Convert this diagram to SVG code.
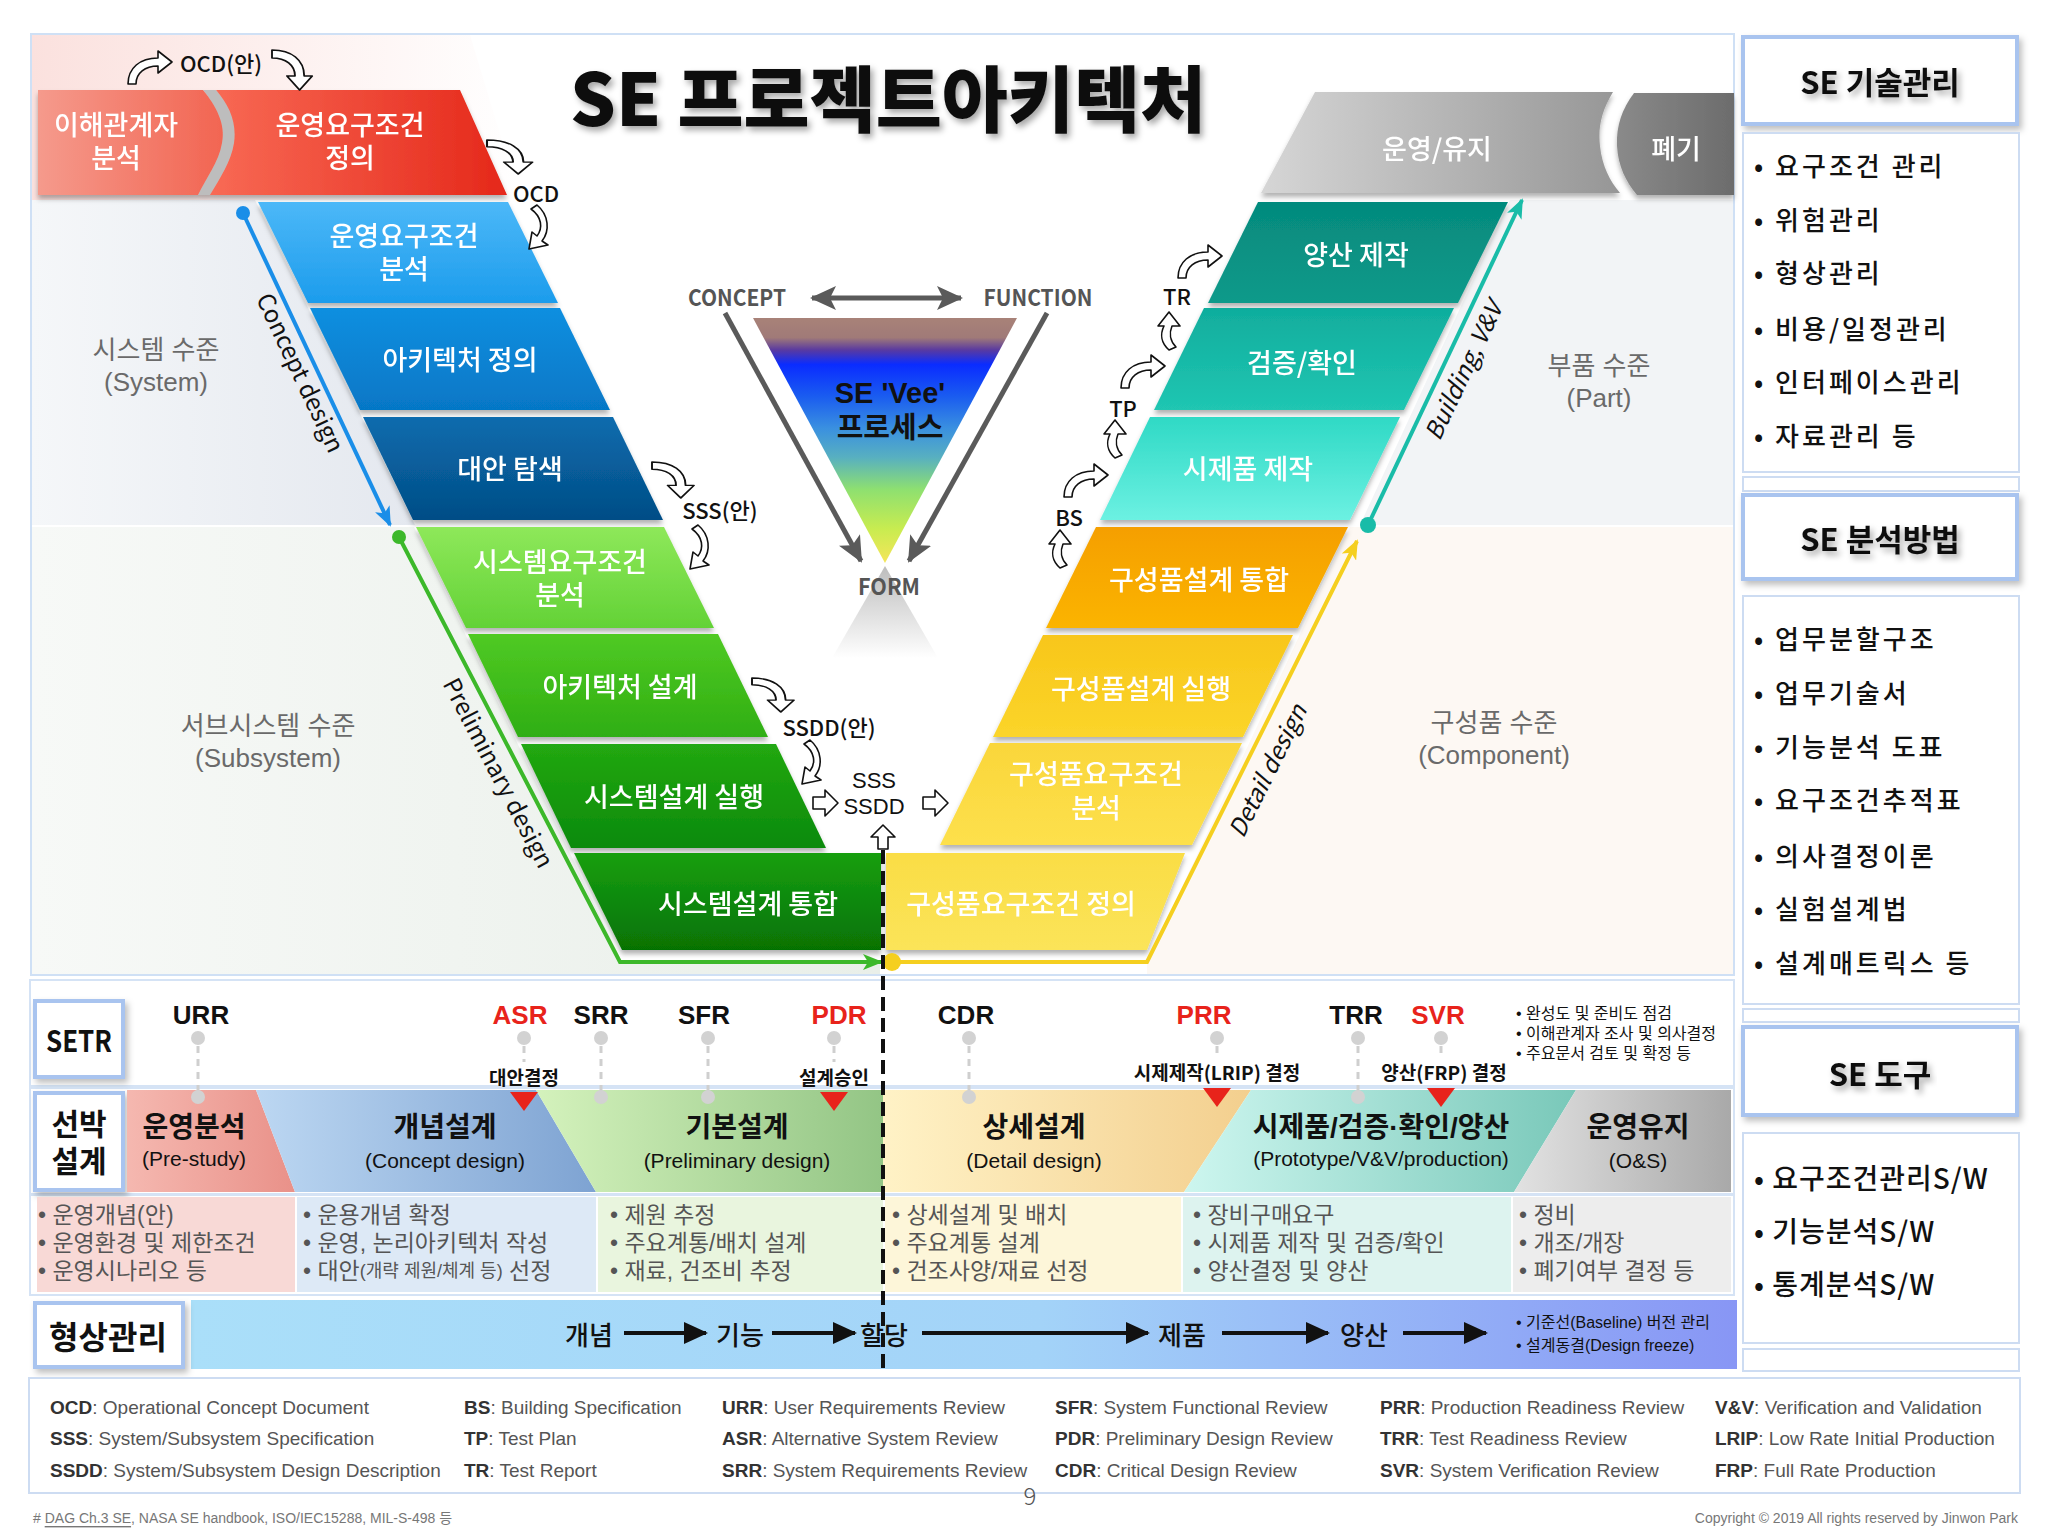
<svg xmlns="http://www.w3.org/2000/svg" width="2048" height="1536" viewBox="0 0 2048 1536">
<defs>
<linearGradient id="gR1" x1="0" y1="0" x2="1" y2="0"><stop offset="0" stop-color="#f59a8c"/><stop offset="1" stop-color="#f26552"/></linearGradient>
<linearGradient id="gR2" x1="0" y1="0" x2="1" y2="0"><stop offset="0" stop-color="#f86a55"/><stop offset="1" stop-color="#e5281a"/></linearGradient>
<linearGradient id="gB1" x1="0" y1="0" x2="0" y2="1"><stop offset="0" stop-color="#4cb8f8"/><stop offset="1" stop-color="#1c9cec"/></linearGradient>
<linearGradient id="gB2" x1="0" y1="0" x2="0" y2="1"><stop offset="0" stop-color="#0f8fe0"/><stop offset="1" stop-color="#0677c6"/></linearGradient>
<linearGradient id="gB3" x1="0" y1="0" x2="0" y2="1"><stop offset="0" stop-color="#0b6cae"/><stop offset="1" stop-color="#034d86"/></linearGradient>
<linearGradient id="gG1" x1="0" y1="0" x2="0" y2="1"><stop offset="0" stop-color="#8ee85a"/><stop offset="1" stop-color="#63d236"/></linearGradient>
<linearGradient id="gG2" x1="0" y1="0" x2="0" y2="1"><stop offset="0" stop-color="#50ca24"/><stop offset="1" stop-color="#2fae12"/></linearGradient>
<linearGradient id="gG3" x1="0" y1="0" x2="0" y2="1"><stop offset="0" stop-color="#22a812"/><stop offset="1" stop-color="#0b8a0a"/></linearGradient>
<linearGradient id="gG4" x1="0" y1="0" x2="0" y2="1"><stop offset="0" stop-color="#179f10"/><stop offset="1" stop-color="#067205"/></linearGradient>
<linearGradient id="gT1" x1="0" y1="0" x2="0" y2="1"><stop offset="0" stop-color="#058a7d"/><stop offset="1" stop-color="#0c9a8a"/></linearGradient>
<linearGradient id="gT2" x1="0" y1="0" x2="0" y2="1"><stop offset="0" stop-color="#10ad9d"/><stop offset="1" stop-color="#20c6b2"/></linearGradient>
<linearGradient id="gT3" x1="0" y1="0" x2="0" y2="1"><stop offset="0" stop-color="#2fd9c5"/><stop offset="1" stop-color="#6cf1e2"/></linearGradient>
<linearGradient id="gO1" x1="0" y1="0" x2="0" y2="1"><stop offset="0" stop-color="#f59f00"/><stop offset="1" stop-color="#fbb400"/></linearGradient>
<linearGradient id="gO2" x1="0" y1="0" x2="0" y2="1"><stop offset="0" stop-color="#f8c61a"/><stop offset="1" stop-color="#fbd52a"/></linearGradient>
<linearGradient id="gO3" x1="0" y1="0" x2="0" y2="1"><stop offset="0" stop-color="#fad63a"/><stop offset="1" stop-color="#fde04c"/></linearGradient>
<linearGradient id="gO4" x1="0" y1="0" x2="0" y2="1"><stop offset="0" stop-color="#fadd45"/><stop offset="1" stop-color="#fbe459"/></linearGradient>
<linearGradient id="gGr1" x1="0" y1="0" x2="1" y2="0"><stop offset="0" stop-color="#d6d6d6"/><stop offset="1" stop-color="#969696"/></linearGradient>
<linearGradient id="gGr2" x1="0" y1="0" x2="1" y2="0"><stop offset="0" stop-color="#8a8a8a"/><stop offset="1" stop-color="#6c6c6c"/></linearGradient>
<linearGradient id="gVee" gradientUnits="userSpaceOnUse" x1="0" y1="318" x2="0" y2="563"><stop offset="0" stop-color="#a88278"/><stop offset="0.08" stop-color="#a07a78"/><stop offset="0.13" stop-color="#5a3aa0"/><stop offset="0.19" stop-color="#0a2cff"/><stop offset="0.32" stop-color="#1a5cf0"/><stop offset="0.45" stop-color="#3a90e0"/><stop offset="0.57" stop-color="#58b0c0"/><stop offset="0.7" stop-color="#8ee070"/><stop offset="0.86" stop-color="#c8ec50"/><stop offset="1" stop-color="#f5e55a"/></linearGradient>
<linearGradient id="gRef" x1="0" y1="0" x2="0" y2="1"><stop offset="0" stop-color="#bdbdbd"/><stop offset="1" stop-color="#ffffff"/></linearGradient>
<linearGradient id="gPk" x1="0" y1="0" x2="1" y2="0"><stop offset="0" stop-color="#fbe1de"/><stop offset="1" stop-color="#ffffff"/></linearGradient>
<linearGradient id="gSys" x1="0" y1="0" x2="1" y2="0"><stop offset="0" stop-color="#f5f7f9"/><stop offset="1" stop-color="#e4e8ef"/></linearGradient>
<linearGradient id="gSub" x1="0" y1="0" x2="1" y2="0"><stop offset="0" stop-color="#f7f9f7"/><stop offset="1" stop-color="#e9efe9"/></linearGradient>
<linearGradient id="pP" x1="0" y1="0" x2="1" y2="0"><stop offset="0" stop-color="#f5b8b0"/><stop offset="1" stop-color="#e99189"/></linearGradient>
<linearGradient id="pB" x1="0" y1="0" x2="1" y2="0"><stop offset="0" stop-color="#bcd7f2"/><stop offset="1" stop-color="#7ea3d2"/></linearGradient>
<linearGradient id="pG" x1="0" y1="0" x2="1" y2="0"><stop offset="0" stop-color="#d4f2bc"/><stop offset="1" stop-color="#93c585"/></linearGradient>
<linearGradient id="pY" x1="0" y1="0" x2="1" y2="0"><stop offset="0" stop-color="#fff2c6"/><stop offset="1" stop-color="#f3cf8e"/></linearGradient>
<linearGradient id="pT" x1="0" y1="0" x2="1" y2="0"><stop offset="0" stop-color="#cdf6ef"/><stop offset="1" stop-color="#79c8b9"/></linearGradient>
<linearGradient id="pA" x1="0" y1="0" x2="1" y2="0"><stop offset="0" stop-color="#e2e2e2"/><stop offset="1" stop-color="#a9a9a9"/></linearGradient>
<linearGradient id="gCM" x1="0" y1="0" x2="1" y2="0"><stop offset="0" stop-color="#aadff9"/><stop offset="0.55" stop-color="#a3d3f8"/><stop offset="1" stop-color="#8896f5"/></linearGradient>
<filter id="sh" x="-10%" y="-10%" width="120%" height="130%"><feDropShadow dx="0" dy="4" stdDeviation="2.5" flood-color="#000" flood-opacity="0.3"/></filter>
<filter id="tsh" x="-5%" y="-20%" width="110%" height="150%"><feDropShadow dx="3" dy="4" stdDeviation="3" flood-color="#000" flood-opacity="0.35"/></filter>
<filter id="bsh" x="-10%" y="-10%" width="125%" height="135%"><feDropShadow dx="3" dy="4" stdDeviation="3" flood-color="#000" flood-opacity="0.25"/></filter>
<marker id="mB" markerUnits="userSpaceOnUse" markerWidth="20" markerHeight="16" refX="18" refY="8" orient="auto"><path d="M0,0 L20,8 L0,16 L5,8 Z" fill="#1a8ee8"/></marker>
<marker id="mG" markerUnits="userSpaceOnUse" markerWidth="20" markerHeight="16" refX="18" refY="8" orient="auto"><path d="M0,0 L20,8 L0,16 L5,8 Z" fill="#3cb82a"/></marker>
<marker id="mY" markerUnits="userSpaceOnUse" markerWidth="20" markerHeight="16" refX="18" refY="8" orient="auto"><path d="M0,0 L20,8 L0,16 L5,8 Z" fill="#f5cf1f"/></marker>
<marker id="mT" markerUnits="userSpaceOnUse" markerWidth="20" markerHeight="16" refX="18" refY="8" orient="auto"><path d="M0,0 L20,8 L0,16 L5,8 Z" fill="#19bca8"/></marker>
<marker id="mV" markerUnits="userSpaceOnUse" markerWidth="26" markerHeight="24" refX="24" refY="12" orient="auto-start-reverse"><path d="M0,0 L26,12 L0,24 L6,12 Z" fill="#5a5a5a"/></marker>
<marker id="mK" markerUnits="userSpaceOnUse" markerWidth="24" markerHeight="22" refX="22" refY="11" orient="auto"><path d="M0,0 L24,11 L0,22 Z" fill="#111"/></marker>
<path id="cA" class="arr" d="M0,30 C0,14 12,4 30,4 L30,-3 L44,8 L30,19 L30,12 C17,12 8,19 8,30 Z"/>
<path id="cB" class="arr" d="M0,0 C17,0 28,10 28,26 L35,26 L24,40 L13,26 L20,26 C20,15 12,8 0,8 Z"/>
<path id="cC" class="arr" d="M4,0 C16,10 17,26 9,36 L15,40 L-4,44 L-1,27 L4,31 C10,23 9,12 -2,4 Z"/>
<path id="cD" class="arr" d="M14,40 C6,33 5,24 9,16 L3,16 L14,2 L25,16 L17,16 C14,23 15,31 21,37 Z"/>
<path id="bE" class="arr" d="M0,-6 L12,-6 L12,-13 L25,0 L12,13 L12,6 L0,6 Z"/>
<path id="bF" class="arr" d="M-5,23 L-5,11 L-12,11 L0,-1 L12,11 L5,11 L5,23 Z"/>
</defs>
<style>
text{font-family:"Noto Sans CJK KR","Noto Sans",sans-serif;dominant-baseline:central}
.ml{font-family:"Liberation Sans","Noto Sans CJK KR",sans-serif}
.arr{fill:#fff;stroke:#111;stroke-width:1.6;stroke-linejoin:round}
.bt{font-size:27px;fill:#fff;text-anchor:middle;font-weight:500}
.lv{font-size:26px;fill:#6a6a6a;text-anchor:middle}
.an{font-size:22px;fill:#111;text-anchor:middle;font-weight:500}
.vl{font-size:23px;fill:#555;text-anchor:middle;font-weight:700}
.rot{font-size:24px;fill:#111;text-anchor:middle}
.hd{font-size:31px;font-weight:700;fill:#111;text-anchor:middle}
.li{font-size:26px;font-weight:500;fill:#111;letter-spacing:3px}
.lt{font-size:28px;font-weight:500;fill:#111;letter-spacing:1px}
.st{font-family:"Liberation Sans",Arial,sans-serif;font-size:26px;font-weight:700;text-anchor:middle;fill:#111}
.red{fill:#e8231b}
.dec{font-size:19px;font-weight:700;fill:#111;text-anchor:middle}
.sb{font-size:16px;fill:#111}
.pt{font-size:28px;font-weight:700;fill:#111}
.ps{font-size:21px;fill:#111}
.db{font-size:23px;fill:#555}
.cf{font-size:26px;fill:#111;text-anchor:middle;font-weight:500}
.gl{font-family:"Liberation Sans","Noto Sans CJK KR",sans-serif;font-size:19px;fill:#555}
.b{font-weight:700;fill:#333}
.ft{font-family:"Liberation Sans","Noto Sans CJK KR",sans-serif;font-size:14px;fill:#777}
.lb{fill:#fff;stroke:#a9c4ef;stroke-width:4}
.bx{fill:#fff;stroke:#cddcf2;stroke-width:2}
.dsh{stroke:#cfcfcf;stroke-width:3;stroke-dasharray:7 6;fill:none}
.dot{fill:#d2d2d2}
.tri{fill:#e8231b}
</style>
<rect width="2048" height="1536" fill="#fff"/>

<g id="background">
<rect x="31" y="34" width="1703" height="941" fill="#fff" stroke="#cfe0f5" stroke-width="2"/>
<polygon points="32,35 470,35 520,200 32,200" fill="url(#gPk)"/>
<polygon points="32,200 255,200 415,525 32,525" fill="url(#gSys)"/>
<polygon points="32,527 414,527 622,962 880,962 880,974 32,974" fill="url(#gSub)"/>
<polygon points="1510,200 1733,200 1733,525 1360,525" fill="#f2f4f6"/>
<polygon points="1350,527 1733,527 1733,974 1147,974 1147,962" fill="#fdf8f3"/>
<rect x="30" y="980" width="1704" height="106" fill="#fff" stroke="#d5e3f5" stroke-width="2"/>
<rect x="30" y="1088" width="1704" height="106" fill="#fff" stroke="#d5e3f5" stroke-width="2"/>
<rect x="30" y="1195" width="1704" height="100" fill="#fff" stroke="#d5e3f5" stroke-width="2"/>
</g>

<text x="888" y="94" text-anchor="middle" font-size="72" font-weight="900" fill="#111" textLength="636" lengthAdjust="spacingAndGlyphs" filter="url(#tsh)">SE 프로젝트아키텍처</text>

<g id="top-red" filter="url(#sh)">
<path d="M200,90 L216,90 C230,106 238,124 234,143 C231,162 220,178 210,195 L198,195 C206,178 219,162 222,143 C226,124 216,106 203,90 Z" fill="#bdbdbd"/>
<g id="n-stakeholder"><path d="M38,90 L203,90 C216,106 226,124 222,143 C219,162 206,178 198,195 L38,195 Z" fill="url(#gR1)"/>
<text class="bt ml" x="116" y="126">이해관계자<tspan x="116" dy="33">분석</tspan></text></g>
<g id="n-opreq-def"><path d="M216,90 L460,90 L507,195 L210,195 C220,178 231,162 234,143 C237,122 229,105 216,90 Z" fill="url(#gR2)"/>
<text class="bt ml" x="350" y="126">운영요구조건<tspan x="350" dy="33">정의</tspan></text></g>
</g>

<g id="left-bands" filter="url(#sh)">
<g id="n-opreq-anal"><polygon points="258,202 508,202 558,303 308,303" fill="url(#gB1)"/><text class="bt ml" x="404" y="237">운영요구조건<tspan x="404" dy="33">분석</tspan></text></g>
<g id="n-arch-def"><polygon points="310,308 560,308 610,410 360,410" fill="url(#gB2)"/><text class="bt" x="460" y="358">아키텍처 정의</text></g>
<g id="n-alt"><polygon points="363,417 613,417 663,520 413,520" fill="url(#gB3)"/><text class="bt" x="510" y="467">대안 탐색</text></g>
<g id="n-sysreq"><polygon points="416,527 664,527 714,628 466,628" fill="url(#gG1)"/><text class="bt ml" x="560" y="563">시스템요구조건<tspan x="560" dy="33">분석</tspan></text></g>
<g id="n-arch-design"><polygon points="468,634 718,634 768,737 518,737" fill="url(#gG2)"/><text class="bt" x="620" y="685">아키텍처 설계</text></g>
<g id="n-sysdesign-exec"><polygon points="521,744 776,744 826,848 571,848" fill="url(#gG3)"/><text class="bt" x="674" y="795">시스템설계 실행</text></g>
<g id="n-sysdesign-int"><polygon points="574,853 881,853 881,950 622,950" fill="url(#gG4)"/><text class="bt" x="748" y="902">시스템설계 통합</text></g>
</g>

<g id="right-bands" filter="url(#sh)">
<g id="n-ops"><path d="M1315,92 L1613,92 C1601,112 1598,128 1600,146 C1602,166 1610,181 1620,193 L1261,193 Z" fill="url(#gGr1)"/><text class="bt" x="1437" y="147">운영/유지</text></g>
<g id="n-disposal"><path d="M1634,93 L1734,93 L1734,195 L1637,195 C1626,182 1618,166 1617,146 C1616,126 1622,109 1634,93 Z" fill="url(#gGr2)"/><text class="bt" x="1676" y="147">폐기</text></g>
<g id="n-mass"><polygon points="1258,202 1508,202 1458,303 1208,303" fill="url(#gT1)"/><text class="bt" x="1356" y="253">양산 제작</text></g>
<g id="n-vv"><polygon points="1204,308 1454,308 1404,410 1154,410" fill="url(#gT2)"/><text class="bt" x="1302" y="361">검증/확인</text></g>
<g id="n-proto"><polygon points="1150,417 1400,417 1350,520 1100,520" fill="url(#gT3)"/><text class="bt" x="1248" y="467">시제품 제작</text></g>
<g id="n-comp-int"><polygon points="1096,527 1348,527 1298,628 1046,628" fill="url(#gO1)"/><text class="bt" x="1199" y="578">구성품설계 통합</text></g>
<g id="n-comp-exec"><polygon points="1043,635 1293,635 1243,737 993,737" fill="url(#gO2)"/><text class="bt" x="1141" y="687">구성품설계 실행</text></g>
<g id="n-comp-anal"><polygon points="990,743 1242,743 1192,845 940,845" fill="url(#gO3)"/><text class="bt ml" x="1096" y="775">구성품요구조건<tspan x="1096" dy="34">분석</tspan></text></g>
<g id="n-comp-def"><polygon points="886,853 1185,853 1147,950 886,950" fill="url(#gO4)"/><text class="bt" x="1021" y="902">구성품요구조건 정의</text></g>
</g>

<g id="levels">
<text class="lv ml" x="156" y="350">시스템 수준<tspan x="156" dy="32">(System)</tspan></text>
<text class="lv ml" x="1599" y="366">부품 수준<tspan x="1599" dy="32">(Part)</tspan></text>
<text class="lv ml" x="268" y="726">서브시스템 수준<tspan x="268" dy="32">(Subsystem)</tspan></text>
<text class="lv ml" x="1494" y="723">구성품 수준<tspan x="1494" dy="32">(Component)</tspan></text>
</g>

<g id="vee">
<polygon points="753,318 1017,318 885,563" fill="url(#gVee)"/>
<polygon points="885,566 938,658 832,658" fill="url(#gRef)"/>
<text class="vl" x="737" y="296" textLength="98" lengthAdjust="spacingAndGlyphs">CONCEPT</text>
<text class="vl" x="1038" y="296" textLength="109" lengthAdjust="spacingAndGlyphs">FUNCTION</text>
<text class="vl" x="889" y="585" textLength="62" lengthAdjust="spacingAndGlyphs">FORM</text>
<text class="ml" x="890" y="393" text-anchor="middle" font-size="29" font-weight="700" fill="#111">SE 'Vee'<tspan x="890" dy="35">프로세스</tspan></text>
</g>

<g id="connectors">
<path d="M243,213 L390,525" stroke="#1a8ee8" stroke-width="4" fill="none" marker-end="url(#mB)"/>
<circle cx="243" cy="213" r="7" fill="#1a8ee8"/>
<path d="M399,537 L620,962 L881,962" stroke="#3cb82a" stroke-width="4" fill="none" marker-end="url(#mG)"/>
<circle cx="399" cy="537" r="7" fill="#3cb82a"/>
<path d="M892,962 L1147,962 L1357,541" stroke="#f5cf1f" stroke-width="4" fill="none" marker-end="url(#mY)"/>
<circle cx="892" cy="962" r="9" fill="#f5cf1f"/>
<path d="M1368,525 L1522,200" stroke="#19bca8" stroke-width="4" fill="none" marker-end="url(#mT)"/>
<circle cx="1368" cy="525" r="8" fill="#19bca8"/>
<line x1="725" y1="313" x2="861" y2="561" stroke="#5a5a5a" stroke-width="5" marker-end="url(#mV)"/>
<line x1="1047" y1="313" x2="909" y2="561" stroke="#5a5a5a" stroke-width="5" marker-end="url(#mV)"/>
<line x1="812" y1="298" x2="961" y2="298" stroke="#5a5a5a" stroke-width="5" marker-start="url(#mV)" marker-end="url(#mV)"/>
<use href="#cA" transform="translate(128,54)"/>
<use href="#cB" transform="translate(272,50) scale(1.15,1)"/>
<use href="#cB" transform="translate(487,140) scale(1.3,0.85)"/>
<use href="#cC" transform="translate(533,205)"/>
<use href="#cB" transform="translate(652,462) scale(1.2,0.9)"/>
<use href="#cC" transform="translate(694,525)"/>
<use href="#cB" transform="translate(752,678) scale(1.2,0.85)"/>
<use href="#cC" transform="translate(806,740)"/>
<use href="#cA" transform="translate(1178,248)"/>
<use href="#cA" transform="translate(1121,358)"/>
<use href="#cA" transform="translate(1064,467)"/>
<use href="#cD" transform="translate(1155,310)"/>
<use href="#cD" transform="translate(1101,418)"/>
<use href="#cD" transform="translate(1046,528)"/>
<use href="#bE" transform="translate(813,803)"/>
<use href="#bE" transform="translate(923,803)"/>
<use href="#bF" transform="translate(883,826)"/>
</g>

<g id="annotations">
<text class="an" x="221" y="62">OCD(안)</text>
<text class="an" x="536" y="192">OCD</text>
<text class="an" x="720" y="509">SSS(안)</text>
<text class="an" x="829" y="726">SSDD(안)</text>
<text class="an ml" x="874" y="780" font-size="21">SSS<tspan x="874" dy="26">SSDD</tspan></text>
<text class="an" x="1177" y="295">TR</text>
<text class="an" x="1123" y="407">TP</text>
<text class="an" x="1069" y="516">BS</text>
<text class="rot" transform="translate(302,372) rotate(64.8)">Concept design</text>
<text class="rot" transform="translate(500,772) rotate(62.5)">Preliminary design</text>
<text class="rot" font-style="italic" transform="translate(1266,770) rotate(-63.5)">Detail design</text>
<text class="rot" font-style="italic" transform="translate(1462,370) rotate(-64.6)">Building, V&amp;V</text>
</g>

<g id="right-column">
<g id="n-tech-mgmt">
<rect class="lb" x="1743" y="37" width="274" height="87" filter="url(#bsh)"/>
<text class="hd" x="1880" y="80" filter="url(#tsh)">SE 기술관리</text>
<rect class="bx" x="1743" y="133" width="276" height="339"/>
<text class="li" x="1754" y="164">• 요구조건 관리<tspan x="1754" dy="54">• 위험관리</tspan><tspan x="1754" dy="53">• 형상관리</tspan><tspan x="1754" dy="56">• 비용/일정관리</tspan><tspan x="1754" dy="53">• 인터페이스관리</tspan><tspan x="1754" dy="54">• 자료관리 등</tspan></text>
<rect class="bx" x="1743" y="477" width="276" height="14"/>
</g>
<g id="n-analysis">
<rect class="lb" x="1743" y="495" width="274" height="84" filter="url(#bsh)"/>
<text class="hd" x="1880" y="537" filter="url(#tsh)">SE 분석방법</text>
<rect class="bx" x="1743" y="596" width="276" height="408"/>
<text class="li" x="1754" y="637">• 업무분할구조<tspan x="1754" dy="54">• 업무기술서</tspan><tspan x="1754" dy="54">• 기능분석 도표</tspan><tspan x="1754" dy="53">• 요구조건추적표</tspan><tspan x="1754" dy="56">• 의사결정이론</tspan><tspan x="1754" dy="53">• 실험설계법</tspan><tspan x="1754" dy="54">• 설계매트릭스 등</tspan></text>
<rect class="bx" x="1743" y="1009" width="276" height="13"/>
</g>
<g id="n-tools">
<rect class="lb" x="1743" y="1027" width="274" height="88" filter="url(#bsh)"/>
<text class="hd" x="1880" y="1072" filter="url(#tsh)">SE 도구</text>
<rect class="bx" x="1743" y="1133" width="276" height="210"/>
<text class="lt" x="1754" y="1177">• 요구조건관리S/W<tspan x="1754" dy="53">• 기능분석S/W</tspan><tspan x="1754" dy="53">• 통계분석S/W</tspan></text>
<rect class="bx" x="1743" y="1349" width="276" height="22"/>
</g>
</g>

<g id="setr-row">
<g id="n-setr-label"><rect class="lb" x="35" y="1001" width="88" height="76" filter="url(#bsh)"/>
<text x="79" y="1039" text-anchor="middle" font-size="30" font-weight="700" fill="#111" textLength="66" lengthAdjust="spacingAndGlyphs">SETR</text></g>
<text class="st" x="201" y="1015">URR</text>
<text class="st red" x="520" y="1015">ASR</text>
<text class="st" x="601" y="1015">SRR</text>
<text class="st" x="704" y="1015">SFR</text>
<text class="st red" x="839" y="1015">PDR</text>
<text class="st" x="966" y="1015">CDR</text>
<text class="st red" x="1204" y="1015">PRR</text>
<text class="st" x="1356" y="1015">TRR</text>
<text class="st red" x="1438" y="1015">SVR</text>
<text class="sb ml" x="1516" y="1013">• 완성도 및 준비도 점검<tspan x="1516" dy="20">• 이해관계자 조사 및 의사결정</tspan><tspan x="1516" dy="20">• 주요문서 검토 및 확정 등</tspan></text>
<text class="dec" x="524" y="1076">대안결정</text>
<text class="dec" x="834" y="1076">설계승인</text>
<text class="dec" x="1217" y="1071">시제제작(LRIP) 결정</text>
<text class="dec" x="1444" y="1071">양산(FRP) 결정</text>
</g>

<g id="phase-row">
<g id="n-ship-label"><rect class="lb" x="35" y="1093" width="88" height="97" filter="url(#bsh)"/>
<text class="ml" x="79" y="1124" text-anchor="middle" font-size="30" font-weight="700" fill="#111">선박<tspan x="79" dy="37">설계</tspan></text></g>
<g id="n-prestudy"><polygon points="127,1090 256,1090 295,1192 127,1192" fill="url(#pP)"/>
<text class="ml" text-anchor="middle" x="194" y="1127"><tspan class="pt">운영분석</tspan><tspan class="ps" x="194" dy="31">(Pre-study)</tspan></text></g>
<g id="n-concept"><polygon points="256,1090 536,1090 596,1192 295,1192" fill="url(#pB)"/>
<text class="ml" text-anchor="middle" x="445" y="1127"><tspan class="pt">개념설계</tspan><tspan class="ps" x="445" dy="33">(Concept design)</tspan></text></g>
<g id="n-prelim"><polygon points="536,1090 883,1090 883,1192 596,1192" fill="url(#pG)"/>
<text class="ml" text-anchor="middle" x="737" y="1127"><tspan class="pt">기본설계</tspan><tspan class="ps" x="737" dy="33">(Preliminary design)</tspan></text></g>
<g id="n-detail"><polygon points="883,1090 1251,1090 1184,1192 883,1192" fill="url(#pY)"/>
<text class="ml" text-anchor="middle" x="1034" y="1127"><tspan class="pt">상세설계</tspan><tspan class="ps" x="1034" dy="33">(Detail design)</tspan></text></g>
<g id="n-prototype"><polygon points="1251,1090 1576,1090 1514,1192 1184,1192" fill="url(#pT)"/>
<text class="ml" text-anchor="middle" x="1381" y="1127"><tspan class="pt">시제품/검증·확인/양산</tspan><tspan class="ps" x="1381" dy="31">(Prototype/V&amp;V/production)</tspan></text></g>
<g id="n-os"><polygon points="1576,1090 1731,1090 1731,1192 1514,1192" fill="url(#pA)"/>
<text class="ml" text-anchor="middle" x="1638" y="1127"><tspan class="pt">운영유지</tspan><tspan class="ps" x="1638" dy="33">(O&amp;S)</tspan></text></g>
</g>

<g id="activity-row">
<rect x="37" y="1197" width="258" height="95" fill="#f8d9d6"/>
<rect x="297" y="1197" width="299" height="95" fill="#dde9f6"/>
<rect x="598" y="1197" width="285" height="95" fill="#e9f5de"/>
<rect x="885" y="1197" width="296" height="95" fill="#fdf6d9"/>
<rect x="1183" y="1197" width="328" height="95" fill="#ddf3ef"/>
<rect x="1513" y="1197" width="218" height="95" fill="#ededed"/>
<text class="db ml" x="38" y="1215">• 운영개념(안)<tspan x="38" dy="28">• 운영환경 및 제한조건</tspan><tspan x="38" dy="28">• 운영시나리오 등</tspan></text>
<text class="db ml" x="303" y="1215">• 운용개념 확정<tspan x="303" dy="28">• 운영, 논리아키텍처 작성</tspan><tspan x="303" dy="28">• 대안</tspan><tspan font-size="18">(개략 제원/체계 등)</tspan><tspan> 선정</tspan></text>
<text class="db ml" x="610" y="1215">• 제원 추정<tspan x="610" dy="28">• 주요계통/배치 설계</tspan><tspan x="610" dy="28">• 재료, 건조비 추정</tspan></text>
<text class="db ml" x="892" y="1215">• 상세설계 및 배치<tspan x="892" dy="28">• 주요계통 설계</tspan><tspan x="892" dy="28">• 건조사양/재료 선정</tspan></text>
<text class="db ml" x="1193" y="1215">• 장비구매요구<tspan x="1193" dy="28">• 시제품 제작 및 검증/확인</tspan><tspan x="1193" dy="28">• 양산결정 및 양산</tspan></text>
<text class="db ml" x="1519" y="1215">• 정비<tspan x="1519" dy="28">• 개조/개장</tspan><tspan x="1519" dy="28">• 폐기여부 결정 등</tspan></text>
</g>

<g id="config-row">
<rect x="191" y="1300" width="1546" height="69" fill="url(#gCM)"/>
<g id="n-cm-label"><rect class="lb" x="35" y="1303" width="148" height="64" filter="url(#bsh)"/>
<text x="108" y="1335" text-anchor="middle" font-size="32" font-weight="700" fill="#111">형상관리</text></g>
<text class="cf" x="589" y="1333">개념</text>
<text class="cf" x="740" y="1333">기능</text>
<text class="cf" x="884" y="1333">할당</text>
<text class="cf" x="1182" y="1333">제품</text>
<text class="cf" x="1364" y="1333">양산</text>
<text class="sb ml" x="1516" y="1322">• 기준선(Baseline) 버전 관리<tspan x="1516" dy="23">• 설계동결(Design freeze)</tspan></text>
</g>

<g id="review-connectors">
<circle class="dot" cx="198" cy="1038" r="7"/><path class="dsh" d="M198,1046 V1094"/><circle class="dot" cx="198" cy="1097" r="7"/>
<circle class="dot" cx="524" cy="1038" r="7"/><path class="dsh" d="M524,1046 V1062"/>
<circle class="dot" cx="601" cy="1038" r="7"/><path class="dsh" d="M601,1046 V1094"/><circle class="dot" cx="601" cy="1097" r="7"/>
<circle class="dot" cx="708" cy="1038" r="7"/><path class="dsh" d="M708,1046 V1094"/><circle class="dot" cx="708" cy="1097" r="7"/>
<circle class="dot" cx="834" cy="1038" r="7"/><path class="dsh" d="M834,1046 V1062"/>
<circle class="dot" cx="969" cy="1038" r="7"/><path class="dsh" d="M969,1046 V1094"/><circle class="dot" cx="969" cy="1097" r="7"/>
<circle class="dot" cx="1217" cy="1038" r="7"/><path class="dsh" d="M1217,1046 V1058"/>
<circle class="dot" cx="1358" cy="1038" r="7"/><path class="dsh" d="M1358,1046 V1094"/><circle class="dot" cx="1358" cy="1097" r="7"/>
<circle class="dot" cx="1441" cy="1038" r="7"/><path class="dsh" d="M1441,1046 V1058"/>
<polygon class="tri" points="510,1092 538,1092 524,1111"/>
<polygon class="tri" points="820,1092 848,1092 834,1111"/>
<polygon class="tri" points="1203,1088 1231,1088 1217,1107"/>
<polygon class="tri" points="1427,1088 1455,1088 1441,1107"/>
<line x1="624" y1="1333" x2="706" y2="1333" stroke="#111" stroke-width="4" marker-end="url(#mK)"/>
<line x1="772" y1="1333" x2="855" y2="1333" stroke="#111" stroke-width="4" marker-end="url(#mK)"/>
<line x1="922" y1="1333" x2="1148" y2="1333" stroke="#111" stroke-width="4" marker-end="url(#mK)"/>
<line x1="1222" y1="1333" x2="1328" y2="1333" stroke="#111" stroke-width="4" marker-end="url(#mK)"/>
<line x1="1403" y1="1333" x2="1486" y2="1333" stroke="#111" stroke-width="4" marker-end="url(#mK)"/>
<line x1="883" y1="850" x2="883" y2="1372" stroke="#111" stroke-width="4" stroke-dasharray="14 7"/>
</g>

<g id="glossary">
<rect x="29" y="1378" width="1991" height="115" fill="#fff" stroke="#cddcf2" stroke-width="2"/>
<text class="gl" x="50" y="1407"><tspan class="b">OCD</tspan>: Operational Concept Document</text>
<text class="gl" x="50" y="1438"><tspan class="b">SSS</tspan>: System/Subsystem Specification</text>
<text class="gl" x="50" y="1470"><tspan class="b">SSDD</tspan>: System/Subsystem Design Description</text>
<text class="gl" x="464" y="1407"><tspan class="b">BS</tspan>: Building Specification</text>
<text class="gl" x="464" y="1438"><tspan class="b">TP</tspan>: Test Plan</text>
<text class="gl" x="464" y="1470"><tspan class="b">TR</tspan>: Test Report</text>
<text class="gl" x="722" y="1407"><tspan class="b">URR</tspan>: User Requirements Review</text>
<text class="gl" x="722" y="1438"><tspan class="b">ASR</tspan>: Alternative System Review</text>
<text class="gl" x="722" y="1470"><tspan class="b">SRR</tspan>: System Requirements Review</text>
<text class="gl" x="1055" y="1407"><tspan class="b">SFR</tspan>: System Functional Review</text>
<text class="gl" x="1055" y="1438"><tspan class="b">PDR</tspan>: Preliminary Design Review</text>
<text class="gl" x="1055" y="1470"><tspan class="b">CDR</tspan>: Critical Design Review</text>
<text class="gl" x="1380" y="1407"><tspan class="b">PRR</tspan>: Production Readiness Review</text>
<text class="gl" x="1380" y="1438"><tspan class="b">TRR</tspan>: Test Readiness Review</text>
<text class="gl" x="1380" y="1470"><tspan class="b">SVR</tspan>: System Verification Review</text>
<text class="gl" x="1715" y="1407"><tspan class="b">V&amp;V</tspan>: Verification and Validation</text>
<text class="gl" x="1715" y="1438"><tspan class="b">LRIP</tspan>: Low Rate Initial Production</text>
<text class="gl" x="1715" y="1470"><tspan class="b">FRP</tspan>: Full Rate Production</text>
</g>

<g id="footer">
<text x="1030" y="1494" text-anchor="middle" font-family="Liberation Sans, sans-serif" font-size="24" font-weight="300" fill="#555">9</text>
<text class="ft" x="33" y="1518"># <tspan text-decoration="underline">DAG Ch.3 SE</tspan>, NASA SE handbook, ISO/IEC15288, MIL-S-498 등</text>
<text class="ft" x="2018" y="1518" text-anchor="end">Copyright © 2019 All rights reserved by Jinwon Park</text>
</g>
</svg>
